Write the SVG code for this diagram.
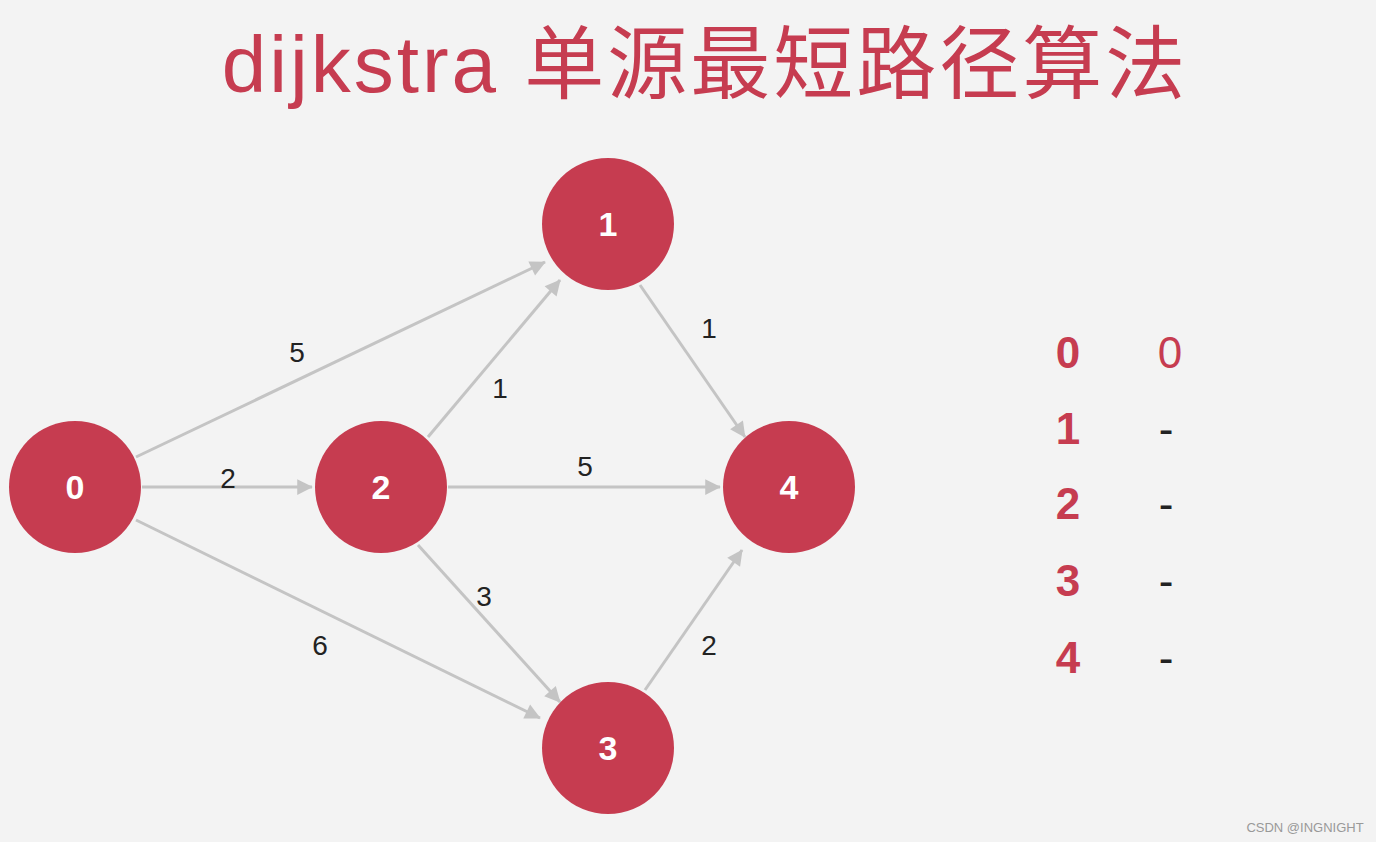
<svg xmlns="http://www.w3.org/2000/svg" width="1376" height="842" viewBox="0 0 1376 842">
<style>
.n{fill:#c63c50}
.nt{fill:#fff;font-family:"Liberation Sans",Arial,sans-serif;font-weight:bold;font-size:34px;text-anchor:middle}
.e{stroke:#c4c4c4;stroke-width:3;fill:none;marker-end:url(#a)}
.el{font-family:"Liberation Sans",Arial,sans-serif;font-size:28px;fill:#222;text-anchor:middle}
.tk{font-family:"Liberation Sans",Arial,sans-serif;font-weight:bold;font-size:44px;fill:#c63c50;text-anchor:middle}
.tv{font-family:"Liberation Sans",Arial,sans-serif;font-size:44px;fill:#222;text-anchor:middle}
</style>
<defs><marker id="a" viewBox="0 0 10 10" refX="9" refY="5" markerWidth="6" markerHeight="6" orient="auto" markerUnits="userSpaceOnUse" style="overflow:visible"><path d="M0,0 L10,5 L0,10 z" fill="#c4c4c4" transform="scale(2.6) translate(-6,-3)"/></marker></defs>
<rect width="1376" height="842" fill="#f3f3f3"/>
<text x="705" y="92" font-family="'Liberation Sans','Noto Sans CJK SC',sans-serif" font-size="80" letter-spacing="3" fill="#c63c50" text-anchor="middle">dijkstra 单源最短路径算法</text>
<g id="connectors">
<line class="e" x1="136" y1="457" x2="545" y2="262"/>
<line class="e" x1="142" y1="487" x2="312" y2="487"/>
<line class="e" x1="136" y1="520" x2="540" y2="718"/>
<line class="e" x1="428" y1="437" x2="560" y2="280"/>
<line class="e" x1="448" y1="487" x2="720" y2="487"/>
<line class="e" x1="418" y1="545" x2="560" y2="702"/>
<line class="e" x1="640" y1="285" x2="745" y2="437"/>
<line class="e" x1="645" y1="690" x2="742" y2="550"/>
<text class="el" x="297" y="362">5</text>
<text class="el" x="228" y="488">2</text>
<text class="el" x="320" y="655">6</text>
<text class="el" x="500" y="398">1</text>
<text class="el" x="585" y="476">5</text>
<text class="el" x="484" y="606">3</text>
<text class="el" x="709" y="338">1</text>
<text class="el" x="709" y="655">2</text>
</g>
<g id="n0"><circle class="n" cx="75" cy="487" r="66"/><text class="nt" x="75" y="499">0</text></g>
<g id="n2"><circle class="n" cx="381" cy="487" r="66"/><text class="nt" x="381" y="499">2</text></g>
<g id="n1"><circle class="n" cx="608" cy="224" r="66"/><text class="nt" x="608" y="236">1</text></g>
<g id="n4"><circle class="n" cx="789" cy="487" r="66"/><text class="nt" x="789" y="499">4</text></g>
<g id="n3"><circle class="n" cx="608" cy="748" r="66"/><text class="nt" x="608" y="760">3</text></g>
<g id="table">
<text class="tk" x="1068" y="368">0</text>
<text class="tk" x="1068" y="444">1</text>
<text class="tk" x="1068" y="519">2</text>
<text class="tk" x="1068" y="596">3</text>
<text class="tk" x="1068" y="673">4</text>
<text class="tv" x="1170" y="368" style="fill:#c63c50">0</text>
<text class="tv" x="1166" y="444">-</text>
<text class="tv" x="1166" y="519">-</text>
<text class="tv" x="1166" y="596">-</text>
<text class="tv" x="1166" y="673">-</text>
</g>
<text x="1305" y="832" font-family="'Liberation Sans',sans-serif" font-size="13" fill="#999" text-anchor="middle">CSDN @INGNIGHT</text>
</svg>
